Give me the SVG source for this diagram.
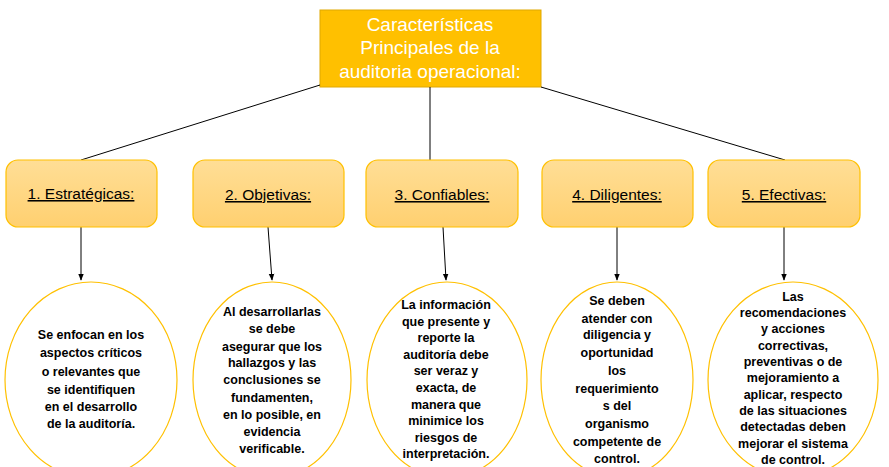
<svg xmlns="http://www.w3.org/2000/svg" width="889" height="467" viewBox="0 0 889 467">
<defs>
<linearGradient id="g" x1="0" y1="0" x2="0" y2="1"><stop offset="0" stop-color="#FFDE96"/><stop offset="1" stop-color="#FFD070"/></linearGradient>
<marker id="a" viewBox="0 0 10 10" refX="9" refY="5" markerWidth="7" markerHeight="7" orient="auto"><path d="M0,1 L10,5 L0,9 z" fill="#000"/></marker>
</defs>
<style>
.b{fill:url(#g);stroke:#FFC000;stroke-width:1.2}
.e{fill:#fff;stroke:#FFC000;stroke-width:1.2}
.h{font-family:"Liberation Sans",Arial,sans-serif;font-size:15.5px;text-decoration:underline;fill:#000;text-anchor:middle}
.t{font-family:"Liberation Sans",Arial,sans-serif;font-size:12.5px;font-weight:bold;fill:#000;text-anchor:middle}
.c line{stroke:#000;stroke-width:1}
</style>
<rect width="889" height="467" fill="#fff"/>
<g id="title"><rect x="320" y="10" width="221" height="77" fill="#FFC000" stroke="#E0A800"/>
<text font-family="Liberation Sans,Arial,sans-serif" font-size="19" fill="#fff" text-anchor="middle"><tspan x="430" y="31">Características</tspan><tspan x="430" y="54">Principales de la</tspan><tspan x="430" y="78">auditoria operacional:</tspan></text></g>
<g class="c">
<line x1="320" y1="85" x2="81" y2="160"/><line x1="430" y1="87" x2="430" y2="160"/><line x1="541" y1="87" x2="785" y2="160"/>
<line x1="81" y1="227" x2="81" y2="280" marker-end="url(#a)"/><line x1="268" y1="227" x2="272" y2="280" marker-end="url(#a)"/><line x1="443" y1="227" x2="446" y2="280" marker-end="url(#a)"/><line x1="617" y1="227" x2="617" y2="280" marker-end="url(#a)"/><line x1="784" y1="227" x2="784" y2="280" marker-end="url(#a)"/>
</g>
<g id="n1"><rect class="b" x="6" y="160" width="151" height="67" rx="12"/><text class="h" x="81" y="199">1. Estratégicas:</text></g>
<g id="n2"><rect class="b" x="193" y="160" width="151" height="67" rx="12"/><text class="h" x="268" y="200">2. Objetivas:</text></g>
<g id="n3"><rect class="b" x="366" y="160" width="152" height="67" rx="12"/><text class="h" x="442" y="200">3. Confiables:</text></g>
<g id="n4"><rect class="b" x="542" y="160" width="151" height="67" rx="12"/><text class="h" x="617" y="200">4. Diligentes:</text></g>
<g id="n5"><rect class="b" x="708" y="160" width="152" height="67" rx="12"/><text class="h" x="784" y="200">5. Efectivas:</text></g>
<g id="e1"><ellipse class="e" cx="91" cy="380" rx="86" ry="98"/><text class="t"><tspan x="91" y="339">Se enfocan en los</tspan><tspan x="91" y="357">aspectos críticos</tspan><tspan x="91" y="376">o relevantes que</tspan><tspan x="91" y="394">se identifiquen</tspan><tspan x="91" y="411">en el desarrollo</tspan><tspan x="91" y="428">de la auditoría.</tspan></text></g>
<g id="e2"><ellipse class="e" cx="272" cy="380" rx="79" ry="98"/><text class="t"><tspan x="272" y="316">Al desarrollarlas</tspan><tspan x="272" y="333">se debe</tspan><tspan x="272" y="351">asegurar que los</tspan><tspan x="272" y="367">hallazgos y las</tspan><tspan x="272" y="384">conclusiones se</tspan><tspan x="272" y="402">fundamenten,</tspan><tspan x="272" y="419">en lo posible, en</tspan><tspan x="272" y="436">evidencia</tspan><tspan x="272" y="453">verificable.</tspan></text></g>
<g id="e3"><ellipse class="e" cx="447" cy="380" rx="80" ry="98"/><text class="t"><tspan x="446" y="309">La información</tspan><tspan x="446" y="326">que presente y</tspan><tspan x="446" y="342">reporte la</tspan><tspan x="446" y="359">auditoría debe</tspan><tspan x="446" y="375">ser veraz y</tspan><tspan x="446" y="392">exacta, de</tspan><tspan x="446" y="409">manera que</tspan><tspan x="446" y="425">minimice los</tspan><tspan x="446" y="442">riesgos de</tspan><tspan x="446" y="458">interpretación.</tspan></text></g>
<g id="e4"><ellipse class="e" cx="617" cy="380" rx="76" ry="98"/><text class="t"><tspan x="617" y="305">Se deben</tspan><tspan x="617" y="323">atender con</tspan><tspan x="617" y="339">diligencia y</tspan><tspan x="617" y="357">oportunidad</tspan><tspan x="617" y="375">los</tspan><tspan x="617" y="393">requerimiento</tspan><tspan x="617" y="410">s del</tspan><tspan x="617" y="428">organismo</tspan><tspan x="617" y="446">competente de</tspan><tspan x="617" y="463">control.</tspan></text></g>
<g id="e5"><ellipse class="e" cx="793" cy="380" rx="85" ry="98"/><text class="t"><tspan x="793" y="301">Las</tspan><tspan x="793" y="317">recomendaciones</tspan><tspan x="793" y="333">y acciones</tspan><tspan x="793" y="350">correctivas,</tspan><tspan x="793" y="366">preventivas o de</tspan><tspan x="793" y="382">mejoramiento a</tspan><tspan x="793" y="399">aplicar, respecto</tspan><tspan x="793" y="415">de las situaciones</tspan><tspan x="793" y="431">detectadas deben</tspan><tspan x="793" y="448">mejorar el sistema</tspan><tspan x="793" y="464">de control.</tspan></text></g>
</svg>
